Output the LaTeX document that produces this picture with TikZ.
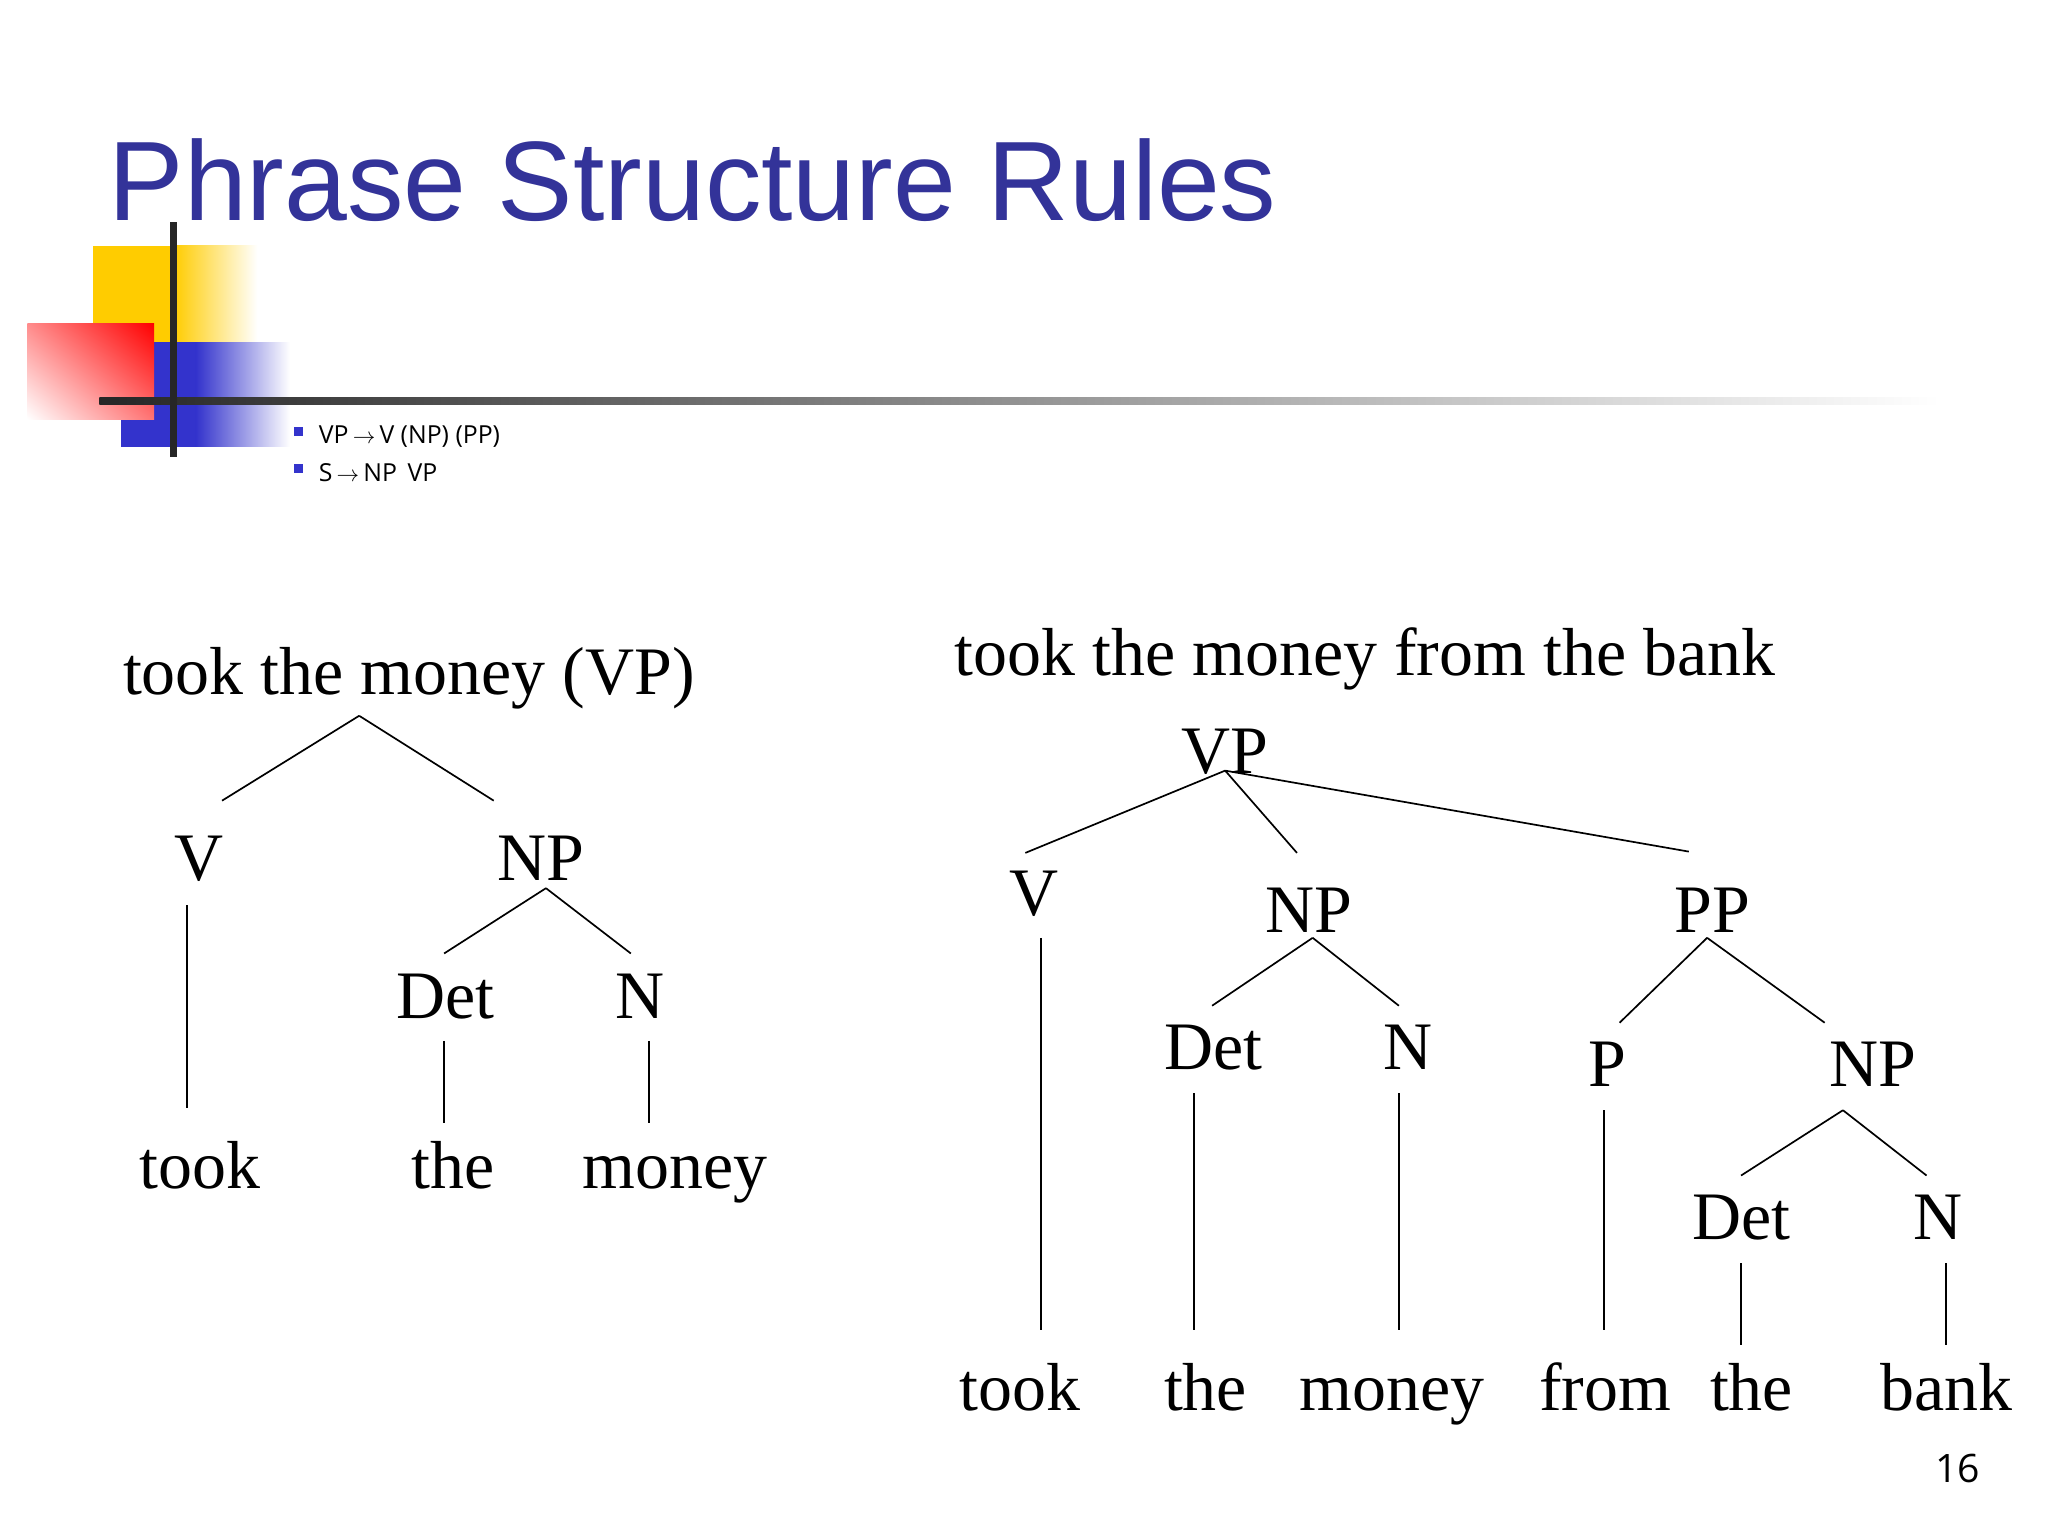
\documentclass[tikz,border=0pt]{standalone}
\usepackage{fontspec}
\setmainfont{Liberation Serif}
\newfontfamily\titlefont{Liberation Sans}
\newfontfamily\bulfont{Open Sans}
\usetikzlibrary{fadings,shadings}
\definecolor{titleblue}{RGB}{51,51,153}
\definecolor{logoyellow}{RGB}{255,204,0}
\definecolor{logoblue}{RGB}{51,51,204}
\tikzset{
  lab/.style={font=\fontsize{52}{58}\selectfont, inner sep=0pt, text height=34pt, text depth=12pt, yshift=-6pt},
  edge/.style={line width=1.3pt, black},
  bul/.style={font=\bulfont\fontsize{19}{22}\selectfont, anchor=west, inner sep=0pt}
}
\begin{document}
\begin{tikzpicture}[x=1pt,y=-1pt]
\useasboundingbox (0,0) rectangle (1568,1176);
\fill[white] (0,0) rectangle (1568,1176);
% logo
\fill[logoyellow] (71,188) rectangle (133,262);
\shade[left color=logoyellow, right color=white] (133,188) rectangle (197,262);
\fill[logoblue] (93,262) rectangle (150,342);
\shade[left color=logoblue, right color=white] (150,262) rectangle (222,342);
\shade[upper right=red, lower left=white, upper left=red!45, lower right=red!55] (21,248) rectangle (118,321);
\shade[left color=black!85, right color=white] (76,304.5) rectangle (1485,309.5);
\fill[black!85] (130.5,170) rectangle (135.5,350);
% title
\node[anchor=west, inner sep=0pt, text=titleblue, font=\titlefont\fontsize{86.5}{96}\selectfont] (title) at (83,138) {Phrase Structure Rules};
\fill[logoblue] (225,327) rectangle (232,334);
\fill[logoblue] (225,355) rectangle (232,362);
\node[bul] (r1) at (244,334) {VP\,$\rightarrow$\,V (NP) (PP)};
\node[bul] (r2) at (244,362) {S\,$\rightarrow$\,NP\,\ VP};
% left tree
\node[lab] (h1) at (313,515) {took the money (VP)};
\coordinate (t1) at (275,548);
\node[lab] (v1) at (152,657) {V};
\node[lab] (np1) at (414,657) {NP};
\node[lab] (det1) at (341,763) {Det};
\node[lab] (n1) at (490,763) {N};
\node[lab] (w1) at (153,893) {took};
\node[lab] (w2) at (347,893) {the};
\node[lab] (w3) at (517,893) {money};
\draw[edge] (t1) -- (170,613);
\draw[edge] (t1) -- (378,613);
\draw[edge] (143,693) -- (143,848);
\draw[edge] (418,680) -- (340,730);
\draw[edge] (418,680) -- (483,730);
\draw[edge] (340,797) -- (340,860);
\draw[edge] (497,797) -- (497,860);
% right tree
\node[lab] (h2) at (1045,500) {took the money from the bank};
\node[lab] (vp) at (938,575) {VP};
\node[lab] (v2) at (792,684) {V};
\node[lab] (np2) at (1002,697) {NP};
\node[lab] (pp) at (1311,697) {PP};
\node[lab] (det2) at (929,802) {Det};
\node[lab] (n2) at (1078,802) {N};
\node[lab] (p) at (1231,815) {P};
\node[lab] (np3) at (1434,815) {NP};
\node[lab] (det3) at (1333,932) {Det};
\node[lab] (n3) at (1484,932) {N};
\node[lab] (b1) at (781,1063) {took};
\node[lab] (b2) at (923,1063) {the};
\node[lab] (b3) at (1066,1063) {money};
\node[lab] (b4) at (1229,1063) {from};
\node[lab] (b5) at (1341,1063) {the};
\node[lab] (b6) at (1490,1063) {bank};
\coordinate (vpb) at (938,590);
\draw[edge] (vpb) -- (785,653);
\draw[edge] (vpb) -- (993,653);
\draw[edge] (vpb) -- (1293,652);
\draw[edge] (797,718) -- (797,1018);
\draw[edge] (1005,718) -- (928,770);
\draw[edge] (1005,718) -- (1071,770);
\draw[edge] (914,837) -- (914,1018);
\draw[edge] (1071,837) -- (1071,1018);
\draw[edge] (1307,718) -- (1240,783);
\draw[edge] (1307,718) -- (1397,783);
\draw[edge] (1228,850) -- (1228,1018);
\draw[edge] (1411,850) -- (1333,900);
\draw[edge] (1411,850) -- (1475,900);
\draw[edge] (1333,967) -- (1333,1030);
\draw[edge] (1490,967) -- (1490,1030);
\node[inner sep=0pt, font=\bulfont\fontsize{30}{34}\selectfont] (pg) at (1499,1124) {16};
\end{tikzpicture}
\end{document}
